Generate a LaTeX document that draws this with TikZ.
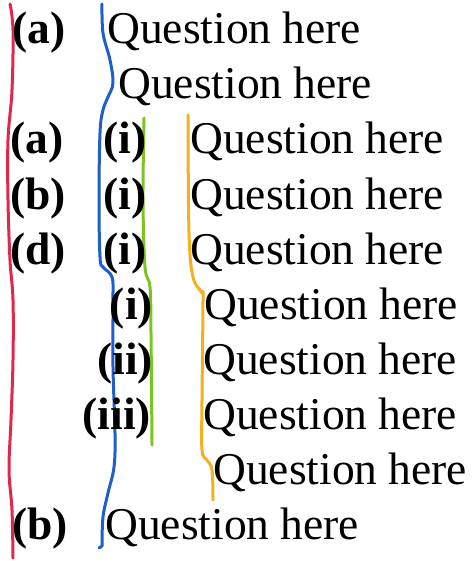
\documentclass[tikz,border=0pt]{standalone}
\usepackage{fontspec}
\setmainfont{Liberation Serif}
\definecolor{penred}{HTML}{E0284A}
\definecolor{penblue}{HTML}{1F5FC8}
\definecolor{pengreen}{HTML}{7CC520}
\definecolor{penorange}{HTML}{F5B020}
\begin{document}
\begin{tikzpicture}[x=1pt,y=-1pt,
  txt/.style={anchor=base west,inner sep=0pt,font=\fontsize{45.5}{50}\selectfont},
  lbl/.style={anchor=base west,inner sep=0pt,font=\fontsize{45.5}{50}\selectfont\bfseries},
  lblr/.style={anchor=base east,inner sep=0pt,font=\fontsize{45.5}{50}\selectfont\bfseries},
  pen/.style={line width=3pt,line cap=round,line join=round}]
\useasboundingbox (0,0) rectangle (474,561);
% red
\draw[pen,penred] plot[smooth,tension=0.6] coordinates {(10,4) (13,30) (12,90) (8,140) (8,200) (10,260) (13,300) (13,360) (11,420) (9,470) (12,510) (13,558)};
% blue
\draw[pen,penblue] plot[smooth,tension=0.6] coordinates {(102,4) (103,33) (110,60) (113,83) (108,97) (103,110) (100,133) (99,200) (100,257) (103,267) (112,277) (113,300) (113,367) (115,433) (114,467) (108,493) (103,517) (102,546)} -- (99,548);
% green
\draw[pen,pengreen] plot[smooth,tension=0.6] coordinates {(144,118) (143,200) (145,267) (150,287) (151,333) (152,445)};
% orange
\draw[pen,penorange] plot[smooth,tension=0.6] coordinates {(188,115) (189,233) (193,277) (202,293) (203,300) (202,400) (202,450) (207,460) (212,470) (213,500)};
% text
\node[lbl] (la1) at (12,44) {(a)};
\node[txt] (q1) at (107,44) {Question here};
\node[txt] (q2) at (118,99) {Question here};
\node[lbl] (la3) at (10,154) {(a)};
\node[lbl] (li3) at (103,154) {(i)};
\node[txt] (q3) at (190,154) {Question here};
\node[lbl] (lb4) at (10,209) {(b)};
\node[lbl] (li4) at (103,209) {(i)};
\node[txt] (q4) at (190,209) {Question here};
\node[lbl] (ld5) at (10,264) {(d)};
\node[lbl] (li5) at (103,264) {(i)};
\node[txt] (q5) at (190,264) {Question here};
\node[lblr] (li6) at (153,319) {(i)};
\node[txt] (q6) at (204,319) {Question here};
\node[lblr] (lii7) at (153,374) {(ii)};
\node[txt] (q7) at (203,374) {Question here};
\node[lblr] (liii8) at (151,429) {(iii)};
\node[txt] (q8) at (203,429) {Question here};
\node[txt] (q9) at (213,484) {Question here};
\node[lbl] (lb10) at (12,539) {(b)};
\node[txt] (q10) at (105,539) {Question here};
\end{tikzpicture}
\end{document}
